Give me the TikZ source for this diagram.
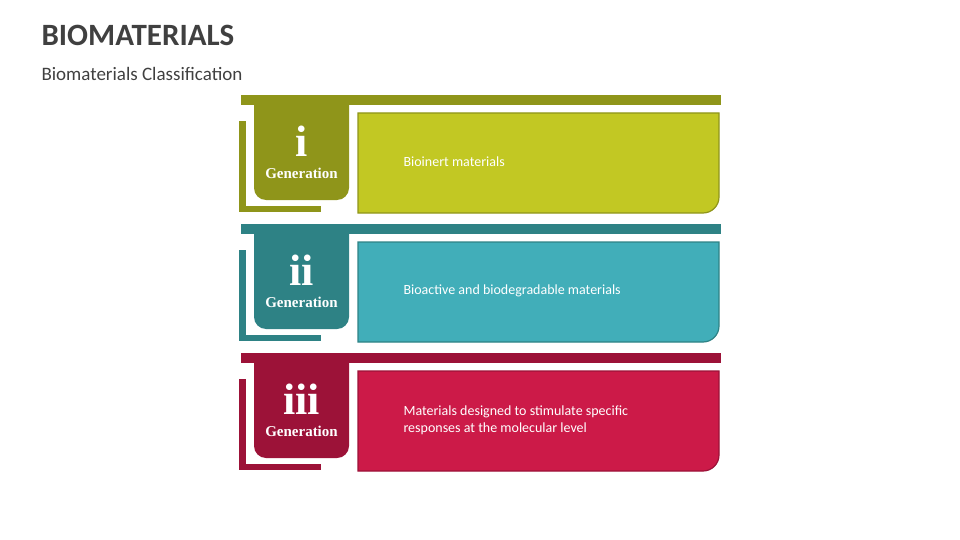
\documentclass[tikz,border=0pt]{standalone}
\usepackage{fontspec}
\setmainfont{Carlito}
\newfontfamily\genfont{Liberation Serif}
\definecolor{oD}{HTML}{8F951A}\definecolor{oL}{HTML}{C2C823}
\definecolor{tD}{HTML}{2E8285}\definecolor{tL}{HTML}{41AEB9}
\definecolor{cD}{HTML}{9C1238}\definecolor{cL}{HTML}{CC1A48}
\definecolor{tx}{HTML}{404040}
\begin{document}
\begin{tikzpicture}[x=1pt,y=-1pt,
  body/.style={font=\fontsize{14}{17}\selectfont,text=white,anchor=west,align=left},
  roman/.style={font=\genfont\bfseries\fontsize{44}{44}\selectfont,text=white},
  gen/.style={font=\genfont\bfseries\fontsize{15}{15}\selectfont,text=white}]
\useasboundingbox (0,0) rectangle (960,540);
\node[anchor=west,text=tx,font=\bfseries\fontsize{31}{31}\selectfont] (title) at (38,35) {BIOMATERIALS};
\node[anchor=west,text=tx,font=\fontsize{19}{19}\selectfont] (sub) at (38,74) {Biomaterials Classification};
\foreach \dy/\D/\L/\R/\T [count=\i] in {0/oD/oL/i/Bioinert materials, 129/tD/tL/ii/Bioactive and biodegradable materials, 258/cD/cL/iii/{Materials designed to stimulate specific\\responses at the molecular level}}{
  \begin{scope}[yshift=-\dy pt]
  \fill[\D] (241,95) rectangle (721,105);
  \fill[\D] (254,105) -- (349,105) -- (349,188) arc[start angle=0,end angle=90,radius=12] -- (266,200) arc[start angle=90,end angle=180,radius=12] -- cycle;
  \fill[\D] (239,121) rectangle (246,212);
  \fill[\D] (239,206) rectangle (321,212);
  \filldraw[fill=\L,draw=\D,line width=1.2] (358,113) -- (719,113) -- (719,197) arc[start angle=0,end angle=90,radius=16] -- (358,213) -- cycle;
  \node[roman] (r\i) at (301.5,141) {\R};
  \node[gen] (g\i) at (301.5,173) {Generation};
  \node[body] (b\i) at (400,162) {\T};
  \end{scope}}
\end{tikzpicture}
\end{document}
